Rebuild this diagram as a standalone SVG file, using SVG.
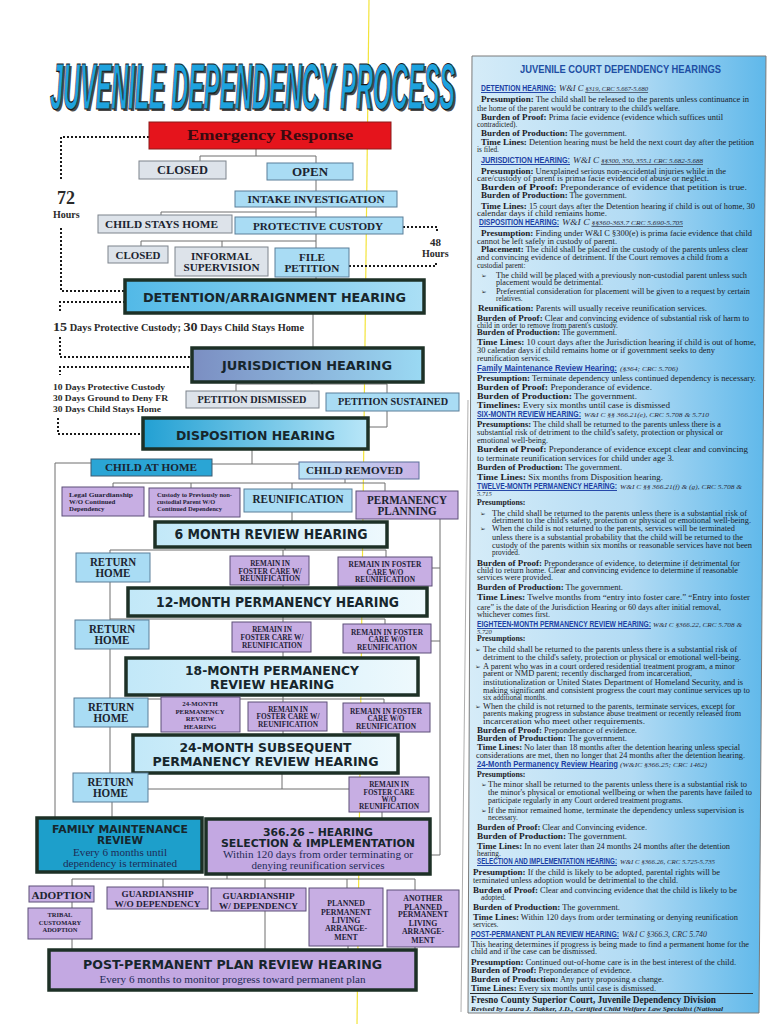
<svg xmlns="http://www.w3.org/2000/svg" width="768" height="1024" viewBox="0 0 768 1024">
<defs>
<linearGradient id="gPanel" x1="0" y1="0" x2="1" y2="0"><stop offset="0" stop-color="#d6ecf8"/><stop offset="0.55" stop-color="#b2dbf4"/><stop offset="1" stop-color="#5fb8ea"/></linearGradient>
<linearGradient id="gDet" x1="0" x2="1"><stop offset="0" stop-color="#52b9e7"/><stop offset="1" stop-color="#abdff5"/></linearGradient>
<linearGradient id="gJur" x1="0" x2="1"><stop offset="0" stop-color="#7b8ec2"/><stop offset="1" stop-color="#9ad9f3"/></linearGradient>
<linearGradient id="gDis" x1="0" x2="1"><stop offset="0" stop-color="#22a0d3"/><stop offset="1" stop-color="#b8e6f8"/></linearGradient>
<linearGradient id="gPale" x1="0" x2="1"><stop offset="0" stop-color="#c2e8f8"/><stop offset="1" stop-color="#eef9fd"/></linearGradient>
<linearGradient id="gRem" x1="0" x2="1"><stop offset="0" stop-color="#b8e4f6"/><stop offset="1" stop-color="#c8b2e5"/></linearGradient>
</defs>
<style>
.gray{fill:#dde3ea;stroke:#7d838c;stroke-width:1}
.lb{fill:#a9dcf4;stroke:#5b7f99;stroke-width:1}
.lav{fill:#c7aee3;stroke:#5c4f78;stroke-width:1}
.mb{fill:#2aa5d5;stroke:#3c5a70;stroke-width:1}
.hear{stroke:#1d3026;stroke-width:3.5}
.t{font-family:"Liberation Serif","Times New Roman",serif;font-weight:bold;fill:#1b2430;text-anchor:middle}
.s{font-family:"Liberation Serif","Times New Roman",serif;font-weight:bold;fill:#1f2238;text-anchor:middle}
.h{font-family:"DejaVu Sans",Verdana,sans-serif;font-weight:bold;fill:#17262c;text-anchor:middle}
.r{font-family:"Liberation Serif","Times New Roman",serif;fill:#1e2b56;text-anchor:middle}
.conn{stroke:#6e6e6e;stroke-width:1;fill:none}
.dot{stroke:#1a1a1a;stroke-width:2;stroke-dasharray:2 2;fill:none}
.ann{font-family:"Liberation Serif","Times New Roman",serif;font-weight:bold;fill:#2a2a2a}
.b{font-family:"Liberation Serif","Times New Roman",serif;font-size:7.3px;fill:#1b1b26}
.l{font-weight:bold;font-size:7.8px}
.hd{font-family:"Liberation Sans",Arial,sans-serif;font-weight:bold;font-size:9.4px;fill:#1c3fa5;text-decoration:underline}
.ci{font-family:"Liberation Serif","Times New Roman",serif;font-style:italic;font-size:6.6px;fill:#2a2a3a}
.cb{font-size:8.6px}
.u{text-decoration:underline}
.bu{font-family:"DejaVu Sans",sans-serif;font-size:6.8px;fill:#1b1b26}
</style>
<rect width="768" height="1024" fill="#ffffff"/>
<line x1="369" y1="0" x2="357" y2="1024" stroke="#f3e43a" stroke-width="1.2"/>
<line x1="468" y1="400" x2="461" y2="1012" stroke="#9a9a9a" stroke-width="0.8"/>

<g id="title">
<text x="52" y="111" font-family="Liberation Sans,Arial,sans-serif" font-weight="bold" font-style="italic" font-size="64" fill="#4a4a4a" textLength="405" lengthAdjust="spacingAndGlyphs">JUVENILE DEPENDENCY PROCESS</text>
<text x="50" y="109" font-family="Liberation Sans,Arial,sans-serif" font-weight="bold" font-style="italic" font-size="64" fill="#1ea2de" stroke="#1a1a1a" stroke-width="1.2" textLength="405" lengthAdjust="spacingAndGlyphs">JUVENILE DEPENDENCY PROCESS</text>
</g>

<g id="connectors">
<path class="conn" d="M256 149V156M200 156H316M200 156V161M316 156V163"/>
<path class="conn" d="M316 180V191"/>
<path class="conn" d="M316 207V212M161 212H316M161 212V215M316 212V217"/>
<path class="conn" d="M316 234V241M141 241H316M141 241V246M222 241V247M316 241V248"/>
<path class="conn" d="M316 277V280"/>
<path class="conn" d="M313 313V348"/>
<path class="conn" d="M312 382V384M236 384H387M236 384V391M387 384V393"/>
<path class="conn" d="M387 411V427H368"/>
<path class="conn" d="M252 449V464M212 464H299"/>
<path class="conn" d="M91 463H55V818"/>
<path class="conn" d="M345 479V483M113 483H385M113 483V487M191 483V488M292 483V489M385 483V491"/>
<path class="conn" d="M292 512V522"/>
<path class="conn" d="M440 519V855H430M440 568H432M440 641H431"/>
<path class="conn" d="M285 547V550M110 550H386M110 550V553M283 550V556M386 550V557"/>
<path class="conn" d="M283 585V588"/>
<path class="conn" d="M110 582V620"/>
<path class="conn" d="M283 616V619M110 619H385M283 619V622M385 619V624"/>
<path class="conn" d="M283 652V658"/>
<path class="conn" d="M110 649V698"/>
<path class="conn" d="M283 695V699M110 699H384M283 699V702M384 699V703"/>
<path class="conn" d="M283 731V735"/>
<path class="conn" d="M110 727V773"/>
<path class="conn" d="M282 773V789M148 789H349"/>
<path class="conn" d="M112 802V818"/>
<path class="conn" d="M382 812V819"/>
<path class="conn" d="M227 874V879M72 879H415M72 879V886M163 879V887M265 879V888M347 879V888M415 879V890"/>
<path class="conn" d="M72 902V908M72 939V950"/>
<path class="conn" d="M265 911V950M348 946V950M415 947V950"/>
<path class="dot" d="M149 137H61V180"/>
<path class="dot" d="M61 228V291H125"/>
<path class="dot" d="M125 302H60V312"/>
<path class="dot" d="M60 337V357H193"/>
<path class="dot" d="M193 367H60V375"/>
<path class="dot" d="M58 418V434H143"/>
<path class="dot" d="M403 227H437V233"/>
<path class="dot" d="M349 266H436V262"/>
</g>

<g id="annotations">
<text class="ann" x="57" y="204" font-size="18">72</text>
<text class="ann" x="53" y="218" font-size="10">Hours</text>
<text class="ann" x="430" y="246" font-size="11">48</text>
<text class="ann" x="422" y="257" font-size="10">Hours</text>
<text class="ann" x="53" y="331" font-size="9.5" textLength="251" lengthAdjust="spacingAndGlyphs"><tspan font-size="13">15</tspan> Days Protective Custody; <tspan font-size="13">30</tspan> Days Child Stays Home</text>
<text class="ann" x="53" y="390" font-size="9" textLength="112" lengthAdjust="spacingAndGlyphs">10 Days Protective Custody</text>
<text class="ann" x="53" y="401" font-size="9" textLength="115" lengthAdjust="spacingAndGlyphs">30 Days Ground to Deny FR</text>
<text class="ann" x="53" y="412" font-size="9" textLength="108" lengthAdjust="spacingAndGlyphs">30 Days Child Stays Home</text>
</g>

<g id="emergency-response"><rect x="149" y="122" width="242" height="27" fill="#e5141c" stroke="#8a1a1a"/><text class="t" x="270" y="140" font-size="14" style="fill:#3a0a10" textLength="166" lengthAdjust="spacingAndGlyphs">Emergency Response</text></g>
<g id="closed-1"><rect class="gray" x="139" y="161" width="87" height="18"/><text class="t" x="182.5" y="174" font-size="12" textLength="51" lengthAdjust="spacingAndGlyphs">CLOSED</text></g>
<g id="open"><rect class="lb" x="267" y="163" width="86" height="17"/><text class="t" x="310" y="176" font-size="12" textLength="36" lengthAdjust="spacingAndGlyphs">OPEN</text></g>
<g id="intake"><rect class="lb" x="235" y="191" width="162" height="16"/><text class="t" x="316" y="203" font-size="11" textLength="137" lengthAdjust="spacingAndGlyphs">INTAKE INVESTIGATION</text></g>
<g id="child-stays-home"><rect class="gray" x="98" y="215" width="134" height="18"/><text class="t" x="161.5" y="228" font-size="10.5" textLength="113" lengthAdjust="spacingAndGlyphs">CHILD STAYS HOME</text></g>
<g id="protective-custody"><rect class="lb" x="235" y="217" width="168" height="17"/><text class="t" x="318" y="230" font-size="11" textLength="130" lengthAdjust="spacingAndGlyphs">PROTECTIVE CUSTODY</text></g>
<g id="closed-2"><rect class="gray" x="108" y="246" width="60" height="17"/><text class="t" x="138" y="259" font-size="11" textLength="45" lengthAdjust="spacingAndGlyphs">CLOSED</text></g>
<g id="informal-supervision"><rect class="gray" x="175" y="247" width="93" height="29"/><text class="t" x="221.5" y="260" font-size="10.5" textLength="61" lengthAdjust="spacingAndGlyphs">INFORMAL</text><text class="t" x="221.5" y="271" font-size="10.5" textLength="76" lengthAdjust="spacingAndGlyphs">SUPERVISION</text></g>
<g id="file-petition"><rect class="lb" x="275" y="248" width="74" height="29"/><text class="t" x="312" y="261" font-size="10.5" textLength="26" lengthAdjust="spacingAndGlyphs">FILE</text><text class="t" x="312" y="272" font-size="10.5" textLength="55" lengthAdjust="spacingAndGlyphs">PETITION</text></g>
<g id="detention-hearing"><rect class="hear" x="125" y="280" width="299" height="33" fill="url(#gDet)"/><text class="h" x="274.5" y="302" font-size="12.5" textLength="263" lengthAdjust="spacingAndGlyphs">DETENTION/ARRAIGNMENT HEARING</text></g>
<g id="jurisdiction-hearing"><rect class="hear" x="192" y="348" width="231" height="34" fill="url(#gJur)"/><text class="h" x="307" y="370" font-size="12.5" textLength="170" lengthAdjust="spacingAndGlyphs">JURISDICTION HEARING</text></g>
<g id="petition-dismissed"><rect class="gray" x="186" y="391" width="133" height="17"/><text class="t" x="252" y="403" font-size="10" textLength="109" lengthAdjust="spacingAndGlyphs">PETITION DISMISSED</text></g>
<g id="petition-sustained"><rect class="lb" x="326" y="393" width="133" height="18"/><text class="t" x="393" y="405" font-size="10" textLength="110" lengthAdjust="spacingAndGlyphs">PETITION SUSTAINED</text></g>
<g id="disposition-hearing"><rect class="hear" x="143" y="418" width="225" height="31" fill="url(#gDis)"/><text class="h" x="255.5" y="440" font-size="12.5" textLength="159" lengthAdjust="spacingAndGlyphs">DISPOSITION HEARING</text></g>
<g id="child-at-home"><rect class="mb" x="91" y="459" width="121" height="17"/><text class="t" x="151" y="471" font-size="11" textLength="92" lengthAdjust="spacingAndGlyphs">CHILD AT HOME</text></g>
<g id="child-removed"><rect x="299" y="462" width="120" height="17" fill="url(#gRem)" stroke="#5b6f99"/><text class="t" x="354.5" y="474" font-size="11" textLength="97" lengthAdjust="spacingAndGlyphs">CHILD REMOVED</text></g>
<g id="legal-guardianship"><rect class="lav" x="62" y="487" width="82" height="29"/><text class="s" x="69" y="497" font-size="6.8" style="text-anchor:start" textLength="64" lengthAdjust="spacingAndGlyphs">Legal Guardianship</text><text class="s" x="69" y="504" font-size="6.8" style="text-anchor:start">W/O Continued</text><text class="s" x="69" y="511" font-size="6.8" style="text-anchor:start">Dependency</text></g>
<g id="custody-noncustodial"><rect class="lav" x="149" y="488" width="91" height="29"/><text class="s" x="157" y="497" font-size="6.3" style="text-anchor:start" textLength="75" lengthAdjust="spacingAndGlyphs">Custody to Previously non-</text><text class="s" x="157" y="504" font-size="6.3" style="text-anchor:start">custodial Parent W/O</text><text class="s" x="157" y="511" font-size="6.3" style="text-anchor:start" textLength="65" lengthAdjust="spacingAndGlyphs">Continued Dependency</text></g>
<g id="reunification"><rect class="lb" x="244" y="489" width="108" height="23"/><text class="t" x="298" y="503" font-size="11.5" textLength="91" lengthAdjust="spacingAndGlyphs">REUNIFICATION</text></g>
<g id="permanency-planning"><rect class="lav" x="356" y="491" width="102" height="28"/><text class="t" x="407" y="504" font-size="11.5" textLength="80" lengthAdjust="spacingAndGlyphs">PERMANENCY</text><text class="t" x="407" y="515" font-size="11.5" textLength="59" lengthAdjust="spacingAndGlyphs">PLANNING</text></g>
<g id="six-month-review"><rect class="hear" x="155" y="522" width="232" height="25" fill="url(#gPale)"/><text class="h" x="271" y="539" font-size="13.5" textLength="193" lengthAdjust="spacingAndGlyphs">6 MONTH REVIEW HEARING</text></g>
<g id="return-home-1"><rect class="lb" x="76" y="553" width="74" height="29"/><text class="t" x="113" y="566" font-size="11.5" textLength="46" lengthAdjust="spacingAndGlyphs">RETURN</text><text class="t" x="113" y="577" font-size="11.5" textLength="35" lengthAdjust="spacingAndGlyphs">HOME</text></g>
<g id="remain-with-1"><rect class="lav" x="230" y="556" width="79" height="29"/><text class="s" x="270" y="566" font-size="7.2">REMAIN IN</text><text class="s" x="270" y="574" font-size="7.2" textLength="63" lengthAdjust="spacingAndGlyphs">FOSTER CARE W/</text><text class="s" x="270" y="581" font-size="7.2" textLength="60" lengthAdjust="spacingAndGlyphs">REUNIFICATION</text></g>
<g id="remain-without-1"><rect class="lav" x="338" y="557" width="94" height="29"/><text class="s" x="385" y="567" font-size="7.2" textLength="73" lengthAdjust="spacingAndGlyphs">REMAIN IN FOSTER</text><text class="s" x="385" y="575" font-size="7.2">CARE W/O</text><text class="s" x="385" y="582" font-size="7.2" textLength="60" lengthAdjust="spacingAndGlyphs">REUNIFICATION</text></g>
<g id="twelve-month-hearing"><rect class="hear" x="128" y="588" width="299" height="28" fill="url(#gPale)"/><text class="h" x="277.5" y="607" font-size="13.5" textLength="243" lengthAdjust="spacingAndGlyphs">12-MONTH PERMANENCY HEARING</text></g>
<g id="return-home-2"><rect class="lb" x="75" y="620" width="74" height="29"/><text class="t" x="112" y="633" font-size="11.5" textLength="46" lengthAdjust="spacingAndGlyphs">RETURN</text><text class="t" x="112" y="644" font-size="11.5" textLength="35" lengthAdjust="spacingAndGlyphs">HOME</text></g>
<g id="remain-with-2"><rect class="lav" x="232" y="622" width="79" height="30"/><text class="s" x="272" y="632" font-size="7.2">REMAIN IN</text><text class="s" x="272" y="640" font-size="7.2" textLength="63" lengthAdjust="spacingAndGlyphs">FOSTER CARE W/</text><text class="s" x="272" y="648" font-size="7.2" textLength="60" lengthAdjust="spacingAndGlyphs">REUNIFICATION</text></g>
<g id="remain-without-2"><rect class="lav" x="343" y="624" width="88" height="29"/><text class="s" x="387" y="635" font-size="7.2" textLength="72" lengthAdjust="spacingAndGlyphs">REMAIN IN FOSTER</text><text class="s" x="387" y="642" font-size="7.2">CARE W/O</text><text class="s" x="387" y="650" font-size="7.2" textLength="60" lengthAdjust="spacingAndGlyphs">REUNIFICATION</text></g>
<g id="eighteen-month-hearing"><rect class="hear" x="126" y="658" width="292" height="37" fill="url(#gPale)"/><text class="h" x="272" y="675" font-size="12" textLength="174" lengthAdjust="spacingAndGlyphs">18-MONTH PERMANENCY</text><text class="h" x="272" y="689" font-size="12" textLength="124" lengthAdjust="spacingAndGlyphs">REVIEW HEARING</text></g>
<g id="return-home-3"><rect class="lb" x="74" y="698" width="74" height="29"/><text class="t" x="111" y="711" font-size="11.5" textLength="46" lengthAdjust="spacingAndGlyphs">RETURN</text><text class="t" x="111" y="722" font-size="11.5" textLength="35" lengthAdjust="spacingAndGlyphs">HOME</text></g>
<g id="twentyfour-month-review-small"><rect class="lav" x="161" y="697" width="79" height="35"/><text class="s" x="200" y="706" font-size="6.8">24-MONTH</text><text class="s" x="200" y="714" font-size="6.8">PERMANENCY</text><text class="s" x="200" y="721" font-size="6.8">REVIEW</text><text class="s" x="200" y="729" font-size="6.8">HEARING</text></g>
<g id="remain-with-3"><rect class="lav" x="248" y="702" width="79" height="29"/><text class="s" x="288" y="712" font-size="7.2">REMAIN IN</text><text class="s" x="288" y="719" font-size="7.2" textLength="63" lengthAdjust="spacingAndGlyphs">FOSTER CARE W/</text><text class="s" x="288" y="727" font-size="7.2" textLength="60" lengthAdjust="spacingAndGlyphs">REUNIFICATION</text></g>
<g id="remain-without-3"><rect class="lav" x="343" y="703" width="87" height="29"/><text class="s" x="386" y="714" font-size="7.2" textLength="72" lengthAdjust="spacingAndGlyphs">REMAIN IN FOSTER</text><text class="s" x="386" y="721" font-size="7.2">CARE W/O</text><text class="s" x="386" y="729" font-size="7.2" textLength="60" lengthAdjust="spacingAndGlyphs">REUNIFICATION</text></g>
<g id="twentyfour-month-subsequent"><rect class="hear" x="133" y="735" width="265" height="38" fill="url(#gPale)"/><text class="h" x="265.5" y="752" font-size="12.5" textLength="172" lengthAdjust="spacingAndGlyphs">24-MONTH SUBSEQUENT</text><text class="h" x="265.5" y="766" font-size="12.5" textLength="226" lengthAdjust="spacingAndGlyphs">PERMANENCY REVIEW HEARING</text></g>
<g id="return-home-4"><rect class="lb" x="73" y="773" width="75" height="29"/><text class="t" x="110.5" y="786" font-size="11.5" textLength="46" lengthAdjust="spacingAndGlyphs">RETURN</text><text class="t" x="110.5" y="797" font-size="11.5" textLength="35" lengthAdjust="spacingAndGlyphs">HOME</text></g>
<g id="remain-without-4"><rect class="lav" x="349" y="777" width="80" height="35"/><text class="s" x="389" y="787" font-size="7.2">REMAIN IN</text><text class="s" x="389" y="795" font-size="7.2">FOSTER CARE</text><text class="s" x="389" y="802" font-size="7.2">W/O</text><text class="s" x="389" y="809" font-size="7.2" textLength="60" lengthAdjust="spacingAndGlyphs">REUNIFICATION</text></g>
<g id="family-maintenance-review"><rect class="hear" x="37" y="818" width="165" height="54" fill="#1d9fcb"/><text class="h" x="120" y="833" font-size="10.5" textLength="136" lengthAdjust="spacingAndGlyphs">FAMILY MAINTENANCE</text><text class="h" x="120" y="844" font-size="10.5" textLength="46" lengthAdjust="spacingAndGlyphs">REVIEW</text><text class="r" x="120" y="856" font-size="11" textLength="94" lengthAdjust="spacingAndGlyphs">Every 6 months until</text><text class="r" x="120" y="867" font-size="11" textLength="114" lengthAdjust="spacingAndGlyphs">dependency is terminated</text></g>
<g id="selection-implementation"><rect class="hear" x="206" y="819" width="224" height="55" fill="#c3a8e2"/><text class="h" x="318" y="836" font-size="11" textLength="110" lengthAdjust="spacingAndGlyphs">366.26 – HEARING</text><text class="h" x="318" y="847" font-size="11" textLength="194" lengthAdjust="spacingAndGlyphs">SELECTION &amp; IMPLEMENTATION</text><text class="r" x="318" y="858" font-size="10.5" textLength="190" lengthAdjust="spacingAndGlyphs">Within 120 days from order terminating or</text><text class="r" x="318" y="869" font-size="10.5" textLength="133" lengthAdjust="spacingAndGlyphs">denying reunification services</text></g>
<g id="adoption"><rect class="lav" x="29" y="886" width="65" height="16"/><text class="t" x="61.5" y="899" font-size="11" textLength="60" lengthAdjust="spacingAndGlyphs">ADOPTION</text></g>
<g id="tribal-customary-adoption"><rect class="lav" x="28" y="908" width="64" height="31"/><text class="s" x="60" y="917" font-size="6.5">TRIBAL</text><text class="s" x="60" y="925" font-size="6.5">CUSTOMARY</text><text class="s" x="60" y="932" font-size="6.5">ADOPTION</text></g>
<g id="guardianship-without"><rect class="lav" x="107" y="887" width="101" height="22"/><text class="s" x="157.5" y="897" font-size="8.5" textLength="72" lengthAdjust="spacingAndGlyphs">GUARDIANSHIP</text><text class="s" x="157.5" y="907" font-size="8.5" textLength="86" lengthAdjust="spacingAndGlyphs">W/O DEPENDENCY</text></g>
<g id="guardianship-with"><rect class="lav" x="211" y="888" width="95" height="23"/><text class="s" x="258.5" y="899" font-size="8.5" textLength="72" lengthAdjust="spacingAndGlyphs">GUARDIANSHIP</text><text class="s" x="258.5" y="909" font-size="8.5" textLength="79" lengthAdjust="spacingAndGlyphs">W/ DEPENDENCY</text></g>
<g id="planned-permanent-living"><rect class="lav" x="309" y="888" width="74" height="58"/><text class="s" x="346" y="906" font-size="7.8">PLANNED</text><text class="s" x="346" y="915" font-size="7.8">PERMANENT</text><text class="s" x="346" y="923" font-size="7.8">LIVING</text><text class="s" x="346" y="931" font-size="7.8">ARRANGE-</text><text class="s" x="346" y="940" font-size="7.8">MENT</text></g>
<g id="another-planned-permanent-living"><rect class="lav" x="387" y="890" width="72" height="57"/><text class="s" x="423" y="901" font-size="7.8">ANOTHER</text><text class="s" x="423" y="910" font-size="7.8">PLANNED</text><text class="s" x="423" y="917" font-size="7.8">PERMANENT</text><text class="s" x="423" y="926" font-size="7.8">LIVING</text><text class="s" x="423" y="934" font-size="7.8">ARRANGE-</text><text class="s" x="423" y="943" font-size="7.8">MENT</text></g>
<g id="post-permanent-review"><rect class="hear" x="49" y="950" width="367" height="40" fill="#c3a8e2"/><text class="h" x="232.5" y="969" font-size="13" textLength="299" lengthAdjust="spacingAndGlyphs">POST-PERMANENT PLAN REVIEW HEARING</text><text class="r" x="232.5" y="983" font-size="11" textLength="266" lengthAdjust="spacingAndGlyphs">Every 6 months to monitor progress toward permanent plan</text></g>

<g id="hearings-panel">
<polygon points="472,56 766,56 759,1013 468,1013" fill="url(#gPanel)" stroke="#7a7a7a" stroke-width="1"/>
<text x="520" y="73" font-family="Liberation Sans,Arial,sans-serif" font-weight="bold" font-size="11.5" fill="#1d4ea3" textLength="201" lengthAdjust="spacingAndGlyphs">JUVENILE COURT DEPENDENCY HEARINGS</text>

<text class="hd" x="481" y="91" textLength="75" lengthAdjust="spacingAndGlyphs">DETENTION HEARING:</text>
<text class="ci" x="559" y="91"><tspan class="cb">W&amp;I C</tspan> <tspan class="u">§319, CRC 5.667-5.680</tspan></text>
<text class="b" x="481" y="102" textLength="268" lengthAdjust="spacingAndGlyphs"><tspan class="l">Presumption:</tspan>  The child shall be released to the parents unless continuance in</text>
<text class="b" x="477" y="111" textLength="203" lengthAdjust="spacingAndGlyphs">the home of the parent would be contrary to the child's welfare.</text>
<text class="b" x="481" y="120" textLength="242" lengthAdjust="spacingAndGlyphs"><tspan class="l">Burden of Proof:</tspan> Prima facie evidence (evidence which suffices until</text>
<text class="b" x="477" y="127">contradicted).</text>
<text class="b" x="481" y="136" textLength="146" lengthAdjust="spacingAndGlyphs"><tspan class="l">Burden of Production:</tspan> The government.</text>
<text class="b" x="481" y="145" textLength="273" lengthAdjust="spacingAndGlyphs"><tspan class="l">Time Lines:</tspan> Detention hearing must be held the next court day after the petition</text>
<text class="b" x="477" y="152">is filed.</text>

<text class="hd" x="481" y="163" textLength="89" lengthAdjust="spacingAndGlyphs">JURISDICTION HEARING:</text>
<text class="ci" x="573" y="163" textLength="130" lengthAdjust="spacingAndGlyphs"><tspan class="cb">W&amp;I C</tspan> <tspan class="u">§§300, 350, 355.1 CRC 5.682-5.688</tspan></text>
<text class="b" x="481" y="174" textLength="245" lengthAdjust="spacingAndGlyphs"><tspan class="l">Presumption:</tspan>  Unexplained serious non-accidental injuries while in the</text>
<text class="b" x="477" y="181" textLength="232" lengthAdjust="spacingAndGlyphs">care/custody of parent is prima facie evidence of abuse or neglect.</text>
<text class="b" x="481" y="190" textLength="266" lengthAdjust="spacingAndGlyphs"><tspan class="l">Burden of Proof:</tspan> Preponderance of evidence that petition is true.</text>
<text class="b" x="481" y="198" textLength="146" lengthAdjust="spacingAndGlyphs"><tspan class="l">Burden of Production:</tspan> The government.</text>
<text class="b" x="481" y="209" textLength="274" lengthAdjust="spacingAndGlyphs"><tspan class="l">Time Lines:</tspan> 15 court days after the Detention hearing if child is out of home, 30</text>
<text class="b" x="477" y="216" textLength="130" lengthAdjust="spacingAndGlyphs">calendar days if child remains home.</text>

<text class="hd" x="479" y="225" textLength="80" lengthAdjust="spacingAndGlyphs">DISPOSITION HEARING:</text>
<text class="ci" x="562" y="225" textLength="121" lengthAdjust="spacingAndGlyphs"><tspan class="cb">W&amp;I C</tspan> <tspan class="u">§§360-363.7 CRC 5.690-5.705</tspan></text>
<text class="b" x="481" y="236" textLength="271" lengthAdjust="spacingAndGlyphs"><tspan class="l">Presumption:</tspan>  Finding under W&amp;I C §300(e) is prima facie evidence that child</text>
<text class="b" x="477" y="244" textLength="140" lengthAdjust="spacingAndGlyphs">cannot be left safely in custody of parent.</text>
<text class="b" x="481" y="252" textLength="267" lengthAdjust="spacingAndGlyphs"><tspan class="l">Placement:</tspan>  The child shall be placed in the custody of the parents unless clear</text>
<text class="b" x="477" y="260" textLength="251" lengthAdjust="spacingAndGlyphs">and convincing evidence of detriment.  If the Court removes a child from a</text>
<text class="b" x="477" y="268">custodial parent:</text>
<text class="bu" x="481" y="278">➢</text><text class="b" x="496" y="278" textLength="251" lengthAdjust="spacingAndGlyphs">The child will be placed with a previously non-custodial parent unless such</text>
<text class="b" x="496" y="285" textLength="107" lengthAdjust="spacingAndGlyphs">placement would be detrimental.</text>
<text class="bu" x="481" y="294">➢</text><text class="b" x="496" y="294" textLength="254" lengthAdjust="spacingAndGlyphs">Preferential consideration for placement will be given to a request by certain</text>
<text class="b" x="496" y="301">relatives.</text>
<text class="b" x="478" y="311" textLength="229" lengthAdjust="spacingAndGlyphs"><tspan class="l">Reunification:</tspan>  Parents will usually receive reunification services.</text>
<text class="b" x="477" y="321" textLength="272" lengthAdjust="spacingAndGlyphs"><tspan class="l">Burden of Proof:</tspan> Clear and convincing evidence of substantial risk of harm to</text>
<text class="b" x="477" y="328" textLength="141" lengthAdjust="spacingAndGlyphs">child in order to remove from parent's custody.</text>
<text class="b" x="477" y="335" textLength="140" lengthAdjust="spacingAndGlyphs"><tspan class="l">Burden of Production:</tspan> The government.</text>
<text class="b" x="477" y="345" textLength="279" lengthAdjust="spacingAndGlyphs"><tspan class="l">Time Lines:</tspan> 10 court days after the Jurisdiction hearing if child is out of home,</text>
<text class="b" x="477" y="353" textLength="238" lengthAdjust="spacingAndGlyphs">30 calendar days if child remains home or if government seeks to deny</text>
<text class="b" x="477" y="361" textLength="73" lengthAdjust="spacingAndGlyphs">reunification services.</text>

<text class="hd" x="477" y="371" textLength="140" lengthAdjust="spacingAndGlyphs">Family Maintenance Review Hearing:</text>
<text class="ci" x="620" y="371" textLength="58" lengthAdjust="spacingAndGlyphs">(§364; CRC 5.706)</text>
<text class="b" x="477" y="381" textLength="279" lengthAdjust="spacingAndGlyphs"><tspan class="l">Presumption:</tspan>  Terminate dependency unless continued dependency is necessary.</text>
<text class="b" x="477" y="390" textLength="175" lengthAdjust="spacingAndGlyphs"><tspan class="l">Burden of Proof:</tspan>  Preponderance of evidence.</text>
<text class="b" x="477" y="399" textLength="160" lengthAdjust="spacingAndGlyphs"><tspan class="l">Burden of Production:</tspan> The government.</text>
<text class="b" x="477" y="408" textLength="193" lengthAdjust="spacingAndGlyphs"><tspan class="l">Timelines:</tspan> Every six months until case is dismissed</text>

<text class="hd" x="477" y="417" textLength="104" lengthAdjust="spacingAndGlyphs">SIX-MONTH REVIEW HEARING:</text>
<text class="ci" x="584" y="417" textLength="125" lengthAdjust="spacingAndGlyphs">W&amp;I C §§ 366.21(e),  CRC 5.708 &amp; 5.710</text>
<text class="b" x="477" y="427" textLength="244" lengthAdjust="spacingAndGlyphs"><tspan class="l">Presumptions:</tspan> The child shall be returned to the parents unless there is a</text>
<text class="b" x="477" y="435" textLength="246" lengthAdjust="spacingAndGlyphs">substantial risk of detriment to the child's safety, protection or physical or</text>
<text class="b" x="477" y="443" textLength="71" lengthAdjust="spacingAndGlyphs">emotional well-being.</text>
<text class="b" x="477" y="452" textLength="271" lengthAdjust="spacingAndGlyphs"><tspan class="l">Burden of Proof:</tspan> Preponderance of evidence except clear and convincing</text>
<text class="b" x="477" y="461" textLength="197" lengthAdjust="spacingAndGlyphs">to terminate reunification services for child under age 3.</text>
<text class="b" x="477" y="470" textLength="145" lengthAdjust="spacingAndGlyphs"><tspan class="l">Burden of Production:</tspan> The government.</text>
<text class="b" x="477" y="480" textLength="186" lengthAdjust="spacingAndGlyphs"><tspan class="l">Time Lines:</tspan> Six months from Disposition hearing.</text>

<text class="hd" x="477" y="489" textLength="140" lengthAdjust="spacingAndGlyphs">TWELVE-MONTH PERMANENCY HEARING:</text>
<text class="ci" x="620" y="489" textLength="122" lengthAdjust="spacingAndGlyphs">W&amp;I C §§ 366.21(f) &amp; (g), CRC 5.708 &amp;</text>
<text class="ci" x="477" y="496">5.715</text>
<text class="b" x="477" y="505"><tspan class="l">Presumptions:</tspan></text>
<text class="bu" x="480" y="516">➢</text><text class="b" x="492" y="516" textLength="255" lengthAdjust="spacingAndGlyphs">The child shall be returned to the parents unless there is a substantial risk of</text>
<text class="b" x="492" y="523" textLength="259" lengthAdjust="spacingAndGlyphs">detriment to the child's safety, protection or physical or emotional well-being.</text>
<text class="bu" x="480" y="531">➢</text><text class="b" x="492" y="531" textLength="243" lengthAdjust="spacingAndGlyphs">When the child is not returned to the parents, services will be terminated</text>
<text class="b" x="492" y="540" textLength="251" lengthAdjust="spacingAndGlyphs">unless there is a substantial probability that the child will be returned to the</text>
<text class="b" x="492" y="548" textLength="260" lengthAdjust="spacingAndGlyphs">custody of the parents within six months or reasonable services have not been</text>
<text class="b" x="492" y="555">provided.</text>
<text class="b" x="477" y="566" textLength="263" lengthAdjust="spacingAndGlyphs"><tspan class="l">Burden of Proof:</tspan> Preponderance of evidence, to determine if detrimental for</text>
<text class="b" x="477" y="573" textLength="261" lengthAdjust="spacingAndGlyphs">child to return home. Clear and convincing evidence to determine if reasonable</text>
<text class="b" x="477" y="580" textLength="76" lengthAdjust="spacingAndGlyphs">services were provided.</text>
<text class="b" x="477" y="590" textLength="146" lengthAdjust="spacingAndGlyphs"><tspan class="l">Burden of Production:</tspan> The government.</text>
<text class="b" x="477" y="600" textLength="273" lengthAdjust="spacingAndGlyphs"><tspan class="l">Time Lines:</tspan>  Twelve months from “entry into foster care.”  “Entry into foster</text>
<text class="b" x="477" y="610" textLength="244" lengthAdjust="spacingAndGlyphs">care” is the date of the Jurisdiction Hearing or 60 days after initial removal,</text>
<text class="b" x="477" y="617" textLength="73" lengthAdjust="spacingAndGlyphs">whichever comes first.</text>

<text class="hd" x="477" y="627" textLength="174" lengthAdjust="spacingAndGlyphs">EIGHTEEN-MONTH PERMANENCY REVIEW HEARING:</text>
<text class="ci" x="653" y="627" textLength="89" lengthAdjust="spacingAndGlyphs">W&amp;I C §366.22, CRC 5.708 &amp;</text>
<text class="ci" x="477" y="634">5.720</text>
<text class="b" x="477" y="641"><tspan class="l">Presumptions:</tspan></text>
<text class="bu" x="475" y="652">➢</text><text class="b" x="483" y="652" textLength="254" lengthAdjust="spacingAndGlyphs">The child shall be returned to the parents unless there is a substantial risk of</text>
<text class="b" x="483" y="660" textLength="258" lengthAdjust="spacingAndGlyphs">detriment to the child's safety, protection or physical or emotional well-being.</text>
<text class="bu" x="475" y="669">➢</text><text class="b" x="483" y="669" textLength="252" lengthAdjust="spacingAndGlyphs">A parent who was in a court ordered residential treatment program, a minor</text>
<text class="b" x="483" y="676" textLength="209" lengthAdjust="spacingAndGlyphs">parent or NMD parent; recently discharged from incarceration,</text>
<text class="b" x="483" y="685" textLength="260" lengthAdjust="spacingAndGlyphs">institutionalization or United States Department of Homeland Security, and is</text>
<text class="b" x="483" y="693" textLength="267" lengthAdjust="spacingAndGlyphs">making significant and consistent progress the court may continue services up to</text>
<text class="b" x="483" y="700" textLength="64" lengthAdjust="spacingAndGlyphs">six additional months.</text>
<text class="bu" x="475" y="709">➢</text><text class="b" x="483" y="709" textLength="252" lengthAdjust="spacingAndGlyphs">When the child is not returned to the parents, terminate services, except for</text>
<text class="b" x="483" y="716" textLength="258" lengthAdjust="spacingAndGlyphs">parents making progress in substance abuse treatment or recently released from</text>
<text class="b" x="483" y="724" textLength="162" lengthAdjust="spacingAndGlyphs">incarceration who meet other requirements.</text>
<text class="b" x="477" y="733" textLength="160" lengthAdjust="spacingAndGlyphs"><tspan class="l">Burden of Proof:</tspan> Preponderance of evidence.</text>
<text class="b" x="477" y="741" textLength="150" lengthAdjust="spacingAndGlyphs"><tspan class="l">Burden of Production:</tspan> The government.</text>
<text class="b" x="477" y="750" textLength="263" lengthAdjust="spacingAndGlyphs"><tspan class="l">Time Lines:</tspan> No later than 18 months after the detention hearing unless special</text>
<text class="b" x="476" y="758" textLength="269" lengthAdjust="spacingAndGlyphs">considerations are met, then no longer that 24 months after the detention hearing.</text>

<text class="hd" x="477" y="767" textLength="141" lengthAdjust="spacingAndGlyphs">24-Month Permanency Review Hearing</text>
<text class="ci" x="620" y="767" textLength="87" lengthAdjust="spacingAndGlyphs">(W&amp;IC §366.25; CRC 1462)</text>
<text class="b" x="477" y="777"><tspan class="l">Presumptions:</tspan></text>
<text class="bu" x="481" y="787">➢</text><text class="b" x="488" y="787" textLength="259" lengthAdjust="spacingAndGlyphs">The minor shall be returned to the parents unless there is a substantial risk to</text>
<text class="b" x="488" y="795" textLength="264" lengthAdjust="spacingAndGlyphs">the minor's physical or emotional wellbeing or when the parents have failed to</text>
<text class="b" x="488" y="803" textLength="195" lengthAdjust="spacingAndGlyphs">participate regularly in any Court ordered treatment programs.</text>
<text class="bu" x="481" y="813">➢</text><text class="b" x="488" y="813" textLength="256" lengthAdjust="spacingAndGlyphs">If the minor remained home, terminate the dependency unless supervision is</text>
<text class="b" x="488" y="820">necessary.</text>
<text class="b" x="477" y="830" textLength="170" lengthAdjust="spacingAndGlyphs"><tspan class="l">Burden of Proof:</tspan> Clear and Convincing evidence.</text>
<text class="b" x="477" y="839" textLength="150" lengthAdjust="spacingAndGlyphs"><tspan class="l">Burden of Production:</tspan> The government.</text>
<text class="b" x="477" y="849" textLength="253" lengthAdjust="spacingAndGlyphs"><tspan class="l">Time Lines:</tspan> In no event later than 24 months 24 months after the detention</text>
<text class="b" x="477" y="856">hearing.</text>

<text class="hd" x="477" y="864" textLength="140" lengthAdjust="spacingAndGlyphs">SELECTION AND IMPLEMENTATION HEARING:</text>
<text class="ci" x="620" y="864" textLength="95" lengthAdjust="spacingAndGlyphs">W&amp;I C §366.26, CRC 5.725-5.735</text>
<text class="b" x="473" y="875" textLength="247" lengthAdjust="spacingAndGlyphs"><tspan class="l">Presumption:</tspan>  If the child is likely to be adopted, parental rights will be</text>
<text class="b" x="473" y="883" textLength="205" lengthAdjust="spacingAndGlyphs">terminated unless adoption would be detrimental to the child.</text>
<text class="b" x="473" y="893" textLength="264" lengthAdjust="spacingAndGlyphs"><tspan class="l">Burden of Proof:</tspan> Clear and convincing evidence that the child is likely to be</text>
<text class="b" x="481" y="900">adopted.</text>
<text class="b" x="473" y="910" textLength="147" lengthAdjust="spacingAndGlyphs"><tspan class="l">Burden of Production:</tspan> The government.</text>
<text class="b" x="473" y="920" textLength="265" lengthAdjust="spacingAndGlyphs"><tspan class="l">Time Lines:</tspan> Within 120 days from order terminating or denying reunification</text>
<text class="b" x="473" y="927">services.</text>

<text class="hd" x="471" y="937" textLength="148" lengthAdjust="spacingAndGlyphs">POST-PERMANENT PLAN REVIEW HEARING:</text>
<text class="ci cb" x="622" y="937" textLength="85" lengthAdjust="spacingAndGlyphs">W&amp;I C §366.3, CRC 5.740</text>
<text class="b" x="471" y="947" textLength="278" lengthAdjust="spacingAndGlyphs">This hearing determines if progress is being made to find a permanent home for the</text>
<text class="b" x="471" y="954" textLength="126" lengthAdjust="spacingAndGlyphs">child and if the case can be dismissed.</text>
<text class="b" x="471" y="965" textLength="265" lengthAdjust="spacingAndGlyphs"><tspan class="l">Presumption:</tspan>  Continued out-of-home care is in the best interest of the child.</text>
<text class="b" x="471" y="973" textLength="161" lengthAdjust="spacingAndGlyphs"><tspan class="l">Burden of Proof:</tspan> Preponderance of evidence.</text>
<text class="b" x="471" y="982" textLength="193" lengthAdjust="spacingAndGlyphs"><tspan class="l">Burden of Production:</tspan> Any party proposing a change.</text>
<text class="b" x="471" y="991" textLength="185" lengthAdjust="spacingAndGlyphs"><tspan class="l">Time Lines:</tspan> Every six months until case is dismissed.</text>
<line x1="470" y1="993.5" x2="753" y2="993.5" stroke="#2a2a2a" stroke-width="1"/>
<text x="471" y="1003" font-family="Liberation Serif,Times New Roman,serif" font-weight="bold" font-size="9.5" fill="#1b1b26" textLength="245" lengthAdjust="spacingAndGlyphs">Fresno County Superior Court, Juvenile Dependency Division</text>
<text x="471" y="1011" font-family="Liberation Serif,Times New Roman,serif" font-weight="bold" font-style="italic" font-size="6.6" fill="#1b1b26" textLength="252" lengthAdjust="spacingAndGlyphs">Revised by Laura J. Bakker, J.D., Certified Child Welfare Law Specialist (National</text>
</g>
</svg>
